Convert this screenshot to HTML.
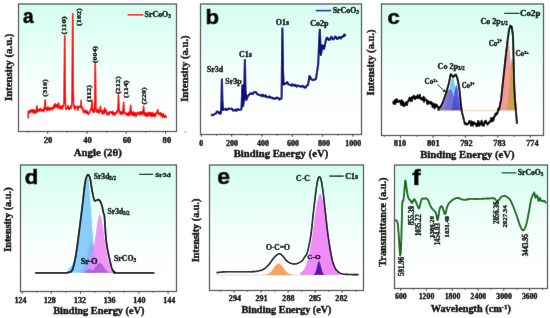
<!DOCTYPE html>
<html><head><meta charset="utf-8"><style>
html,body{margin:0;padding:0;background:#fff;width:550px;height:318px;overflow:hidden;}
svg{display:block;}
#w{width:550px;height:318px;will-change:transform;}

</style></head><body><div id="w">
<svg width="550" height="318" viewBox="0 0 550 318">
<defs>
<linearGradient id="bg" x1="0" y1="0" x2="0" y2="1">
<stop offset="0" stop-color="#d3fef0"/>
<stop offset="0.15" stop-color="#dcfff3"/>
<stop offset="0.38" stop-color="#eafff8"/>
<stop offset="0.6" stop-color="#f6fffc"/>
<stop offset="0.8" stop-color="#fdfffe"/>
<stop offset="1" stop-color="#ffffff"/>
</linearGradient>
<filter id="sb" x="0" y="0" width="550" height="318" filterUnits="userSpaceOnUse"><feConvolveMatrix order="3" kernelMatrix="0.00163 0.03713 0.00163 0.03713 0.84497 0.03713 0.00163 0.03713 0.00163" preserveAlpha="true"/></filter>
</defs>
<g filter="url(#sb)">
<rect x="0" y="0" width="550" height="318" fill="#fff"/>
<rect x="18.5" y="4" width="158.0" height="127.5" fill="url(#bg)"/>
<rect x="200.5" y="4" width="161.0" height="130.5" fill="url(#bg)"/>
<rect x="381.5" y="4" width="162.0" height="131.5" fill="url(#bg)"/>
<rect x="20.5" y="165" width="156.0" height="126.5" fill="url(#bg)"/>
<rect x="209.5" y="165" width="154.0" height="125.5" fill="url(#bg)"/>
<rect x="394.5" y="165" width="153.0" height="123.5" fill="url(#bg)"/>
<path d="M28,118.5 L28.4,111.28 L28.8,113.47 L29.2,110.69 L29.6,112.71 L30,111.81 L30.4,110.28 L30.8,112.23 L31.2,109.96 L31.6,111.67 L32,109.88 L32.4,109.86 L32.8,111.28 L33.2,113.02 L33.6,109.67 L34,110.01 L34.4,111.76 L34.8,113.12 L35.2,111.33 L35.6,110.46 L36,113.08 L36.4,108.33 L36.75,110.14 L36.8,107.21 L37,105.86 L37.2,106.38 L37.25,107.56 L37.6,111.75 L38,109.22 L38.4,111.04 L38.8,111.26 L39.2,109.99 L39.6,110.76 L40,108.49 L40.4,108.43 L40.8,109.07 L41.2,111.21 L41.6,110.01 L42,109.45 L42.4,110.65 L42.8,110 L43.2,109.26 L43.6,111.49 L44,111 L44.4,108.12 L44.8,103.28 L44.85,101.88 L45.1,100.03 L45.2,99.96 L45.35,100.67 L45.6,109.12 L46,107.81 L46.4,109.2 L46.8,110.64 L47.2,107.74 L47.6,109.17 L48,106.98 L48.4,109.75 L48.8,110.08 L49.2,109.08 L49.6,110.35 L50,107.64 L50.4,109.28 L50.8,108.69 L51.2,108.51 L51.6,107.82 L52,109.46 L52.4,109.83 L52.8,107.54 L53.2,108.29 L53.6,105.38 L54,108.06 L54.4,107.03 L54.75,107.63 L54.8,106.73 L55,104.01 L55.2,104.66 L55.25,106.06 L55.6,103.98 L56,106.65 L56.4,105.46 L56.8,105.24 L57.2,104.97 L57.6,108.2 L58,104.55 L58.25,103.72 L58.4,103.66 L58.5,105.71 L58.75,102.95 L58.8,104.95 L59.2,107.03 L59.6,108.76 L60,108.47 L60.4,108.67 L60.8,105.98 L61.2,106.61 L61.6,106.35 L62,108.77 L62.4,109.14 L62.8,105.46 L63.2,105.61 L63.6,105.82 L64,101.31 L64.4,64.42 L64.45,57.85 L64.7,35.71 L64.8,38.33 L64.95,57.11 L65.2,89.1 L65.6,106.82 L66,109.41 L66.4,108.24 L66.8,107.47 L67.2,107.97 L67.6,108.28 L68,105.45 L68.4,109.37 L68.8,108.85 L69.2,109.31 L69.6,108.98 L70,107.15 L70.4,107.21 L70.8,105.88 L71.2,108.35 L71.6,105.63 L72,99.64 L72.4,49.68 L72.45,40.1 L72.7,13.46 L72.8,17.21 L72.95,39.39 L73.2,82.92 L73.6,105.03 L74,107.29 L74.4,105.77 L74.8,109.71 L75.2,108.52 L75.6,106.38 L76,106.86 L76.4,107.3 L76.8,107.38 L77.2,106.27 L77.6,109.61 L78,110.27 L78.4,107.84 L78.8,107.93 L79.2,106.1 L79.6,106.17 L80,107.27 L80.4,107.02 L80.8,107.47 L80.95,102.63 L81.2,100.31 L81.45,106.61 L81.6,106.64 L82,107.59 L82.4,109.88 L82.8,107.78 L83.2,110.37 L83.6,112.72 L84,112.47 L84.4,111.98 L84.8,110.26 L85.2,110.95 L85.6,110.17 L86,113.08 L86.4,112.12 L86.8,113.38 L87.2,111.45 L87.6,111.09 L88,113.93 L88.4,114.4 L88.8,113.46 L89.2,112.91 L89.6,112.63 L90,111.94 L90.4,109.24 L90.8,110.25 L91.2,109.12 L91.6,104.67 L91.75,102.39 L92,101.29 L92.25,103.45 L92.4,107.72 L92.8,111.88 L93.2,109.75 L93.6,112.01 L94,112.24 L94.4,111.58 L94.8,97.96 L95.05,76.37 L95.2,65.49 L95.3,62.9 L95.55,76.45 L95.6,82.98 L96,109.13 L96.4,111.93 L96.8,110.45 L97.2,111.36 L97.6,112.16 L98,108.99 L98.4,111.76 L98.8,113.02 L99.2,112.56 L99.6,112.48 L100,110.26 L100.25,106.83 L100.4,108.56 L100.5,106.23 L100.75,109.76 L100.8,111.01 L101.2,110.9 L101.6,111.28 L102,113.86 L102.4,112.89 L102.8,110.4 L103.2,110.26 L103.6,110.44 L104,113.95 L104.4,113.06 L104.75,107.93 L104.8,110.72 L105,110.71 L105.2,110 L105.25,108.95 L105.6,112.06 L106,110.69 L106.4,110.23 L106.8,114.69 L107.2,113.27 L107.6,112.76 L108,114.69 L108.4,112.46 L108.8,114.53 L109.2,114.38 L109.6,111.61 L110,111.86 L110.4,112.05 L110.8,111.81 L111.2,113.4 L111.6,111.89 L112,112.63 L112.4,111.3 L112.8,114.89 L113.2,112.33 L113.6,112.81 L114,113.38 L114.4,114.86 L114.8,112.63 L115.2,114.92 L115.6,113.01 L116,113.15 L116.4,113.11 L116.8,110.79 L117.2,112.72 L117.6,111.35 L118,106.33 L118.25,101.94 L118.4,94.84 L118.5,95.28 L118.75,101.6 L118.8,102.58 L119.2,111.04 L119.6,113.06 L120,113.25 L120.4,114.33 L120.8,111.23 L121.2,113.34 L121.6,111.92 L122,112.07 L122.4,114.37 L122.8,112.81 L123.2,108.15 L123.35,105.26 L123.6,102.2 L123.85,103.83 L124,108.42 L124.4,112.88 L124.8,113.29 L125.2,114.15 L125.6,113.06 L126,113.45 L126.4,113.22 L126.8,115.37 L127.2,114.28 L127.6,115.11 L128,115.43 L128.4,112.31 L128.8,113.71 L129.2,115.5 L129.6,115.04 L130,111.42 L130.4,108 L130.45,108.85 L130.7,105.33 L130.8,106.45 L130.95,107.18 L131.2,112.78 L131.6,114.82 L132,115.43 L132.4,112.03 L132.8,114.63 L133.2,114.4 L133.6,112.04 L134,115.46 L134.4,115.87 L134.8,112.45 L135.2,115.84 L135.6,113.31 L136,113.74 L136.4,116.07 L136.8,115.37 L137.2,112.3 L137.6,113.57 L138,113.97 L138.4,113.18 L138.8,112.54 L139.2,113.13 L139.6,115 L140,111.79 L140.4,114.27 L140.8,113.77 L141.2,111.84 L141.6,113.3 L142,114.67 L142.4,114.15 L142.8,111.1 L143.15,110.97 L143.2,109.34 L143.4,108.67 L143.6,106.22 L143.65,107.68 L144,111.04 L144.4,115.47 L144.8,113.18 L145.2,112.56 L145.6,113.92 L146,116.19 L146.4,115.79 L146.8,113.23 L147.2,112.75 L147.6,116.31 L148,114.72 L148.4,115.34 L148.8,112.55 L149.2,112.42 L149.6,115.35 L150,114.16 L150.4,112.55 L150.8,116.56 L151.2,115.18 L151.6,115.97 L152,112.69 L152.4,116.26 L152.8,112.65 L153.2,116.33 L153.6,114.47 L154,113.96 L154.4,114.96 L154.8,116.7 L155.2,113.69 L155.6,113.07 L156,114.92 L156.4,113.62 L156.8,113.03 L157.2,112.71 L157.55,109.71 L157.6,109.99 L157.8,109.64 L158,110.49 L158.05,112.99 L158.4,113.36 L158.8,114.92 L159.2,113.48 L159.6,114.28 L160,112.78 L160.4,113.92 L160.8,112.9 L161.2,116.27 L161.6,115.5 L162,113.9 L162.4,115.28 L162.8,117.47 L163.2,113.72 L163.6,117.07 L164,115.35 L164.4,115.71 L164.8,117.34 L165.2,115.37 L165.6,115.96 L166,116.86 L166.4,118.22" fill="none" stroke="#f00" stroke-width="1.55" stroke-linejoin="round"/>
<path d="M211,115 L211.6,114.59 L212.2,115.46 L212.8,115.11 L213.4,114.87 L214,114.5 L214.67,113.98 L215.33,113.53 L216,113.5 L216.75,111.61 L217.5,111.5 L218.25,111.76 L219,113.5 L219.67,112.47 L220.33,113.65 L221,113 L221.5,100 L221.9,79.2 L222.4,100 L223,110 L223.67,109.34 L224.33,108.99 L225,109.5 L225.62,108.61 L226.25,110.06 L226.88,110.05 L227.5,109.59 L228.12,108.75 L228.75,108.61 L229.38,108.65 L230,109 L230.62,109.04 L231.25,108.57 L231.88,109.27 L232.5,109.03 L233.12,110.55 L233.75,110.7 L234.38,109.97 L235,110 L235.62,109.49 L236.25,110.93 L236.88,109.62 L237.5,109.71 L238.12,109 L238.75,109.76 L239.38,109.95 L240,110 L240.75,109.51 L241.5,109 L242.4,85.2 L243.1,106 L244,100 L244.9,60 L245.5,90 L246.3,100 L247.5,97 L248.13,95.57 L248.77,95.34 L249.4,94.5 L250.12,93.41 L250.84,93.83 L251.56,93.38 L252.28,93.9 L253,94 L253.62,92.58 L254.25,92.04 L254.88,92.11 L255.5,92 L256.25,92.47 L257,94 L257.62,94.33 L258.23,94.37 L258.85,94.96 L259.46,94.93 L260.08,95.2 L260.69,95.68 L261.31,94.86 L261.92,94.88 L262.54,96.35 L263.15,94.84 L263.77,96.14 L264.38,96.13 L265,96 L265.64,95.22 L266.27,96.94 L266.91,97.19 L267.55,96.8 L268.18,97.15 L268.82,97.44 L269.45,96.23 L270.09,97.14 L270.73,97.24 L271.36,98.03 L272,97.5 L272.61,98.23 L273.23,98.4 L273.84,98.03 L274.46,98.77 L275.07,98.47 L275.69,98.62 L276.3,97.81 L276.91,97.53 L277.53,97.86 L278.14,98.44 L278.76,98.05 L279.37,99.63 L279.99,99.2 L280.6,99.2 L281.6,98 L282.4,28.4 L283,70 L283.7,84.5 L284.32,84.38 L284.94,83.99 L285.56,83.72 L286.18,82.96 L286.8,82.6 L287.44,82.09 L288.08,84.16 L288.72,84.54 L289.36,84.53 L290,85 L290.62,85.13 L291.25,85.44 L291.88,84.32 L292.5,85.72 L293.12,84.82 L293.75,84.52 L294.38,84.97 L295,85.96 L295.62,84.97 L296.25,86.1 L296.88,86.64 L297.5,85.74 L298.12,85.58 L298.75,85.83 L299.38,86.3 L300,86 L300.6,86.68 L301.2,86.53 L301.8,86.74 L302.4,85.75 L303,86.04 L303.6,86.41 L304.2,87.54 L304.8,86.81 L305.4,87.49 L306,87.5 L306.67,85.69 L307.33,84.95 L308,85 L308.75,80.5 L309.5,76 L310.17,76.7 L310.83,78.68 L311.5,79.5 L312.12,80.01 L312.75,80.1 L313.38,79.46 L314,80 L314.67,79.7 L315.33,79.26 L316,79 L316.73,74 L317.47,69 L318.2,64 L319.3,38 L319.8,29.5 L320.9,55 L321.75,50.15 L322.6,45.3 L323.3,47.08 L324,49 L324.75,45.5 L325.5,42 L326.25,39.04 L327,37.6 L327.67,39.19 L328.33,38.6 L329,40 L329.67,39.96 L330.33,38.87 L331,37 L331.67,36.87 L332.33,38.58 L333,39.5 L333.67,39.14 L334.33,38.44 L335,36.5 L335.67,37.23 L336.33,37.7 L337,39 L337.67,37.75 L338.33,38.56 L339,37 L339.67,36.92 L340.33,38.16 L341,38.5 L341.67,36.95 L342.33,36.88 L343,36 L343.68,36.48 L344.35,34.42 L345.02,35.37 L345.7,34.3" fill="none" stroke="#080880" stroke-width="2.1" stroke-linejoin="round"/>
<path d="M440,111 L440,110.99 L440.5,110.98 L441,110.97 L441.5,110.94 L442,110.89 L442.5,110.81 L443,110.69 L443.5,110.5 L444,110.21 L444.5,109.78 L445,109.18 L445.5,108.34 L446,107.23 L446.5,105.78 L447,103.95 L447.5,101.74 L448,99.14 L448.5,96.21 L449,93.02 L449.5,89.71 L450,86.44 L450.5,83.39 L451,80.76 L451.5,78.72 L452,77.44 L452.5,77 L453,77.44 L453.5,78.72 L454,80.76 L454.5,83.39 L455,86.44 L455.5,89.71 L456,93.02 L456.5,96.21 L457,99.14 L457.5,101.74 L458,103.95 L458.5,105.78 L459,107.23 L459.5,108.34 L460,109.18 L460.5,109.78 L461,110.21 L461.5,110.5 L462,110.69 L462,111Z" fill="#78c8f4" fill-opacity="1.0"/>
<path d="M439.5,111 L439.5,109.75 L440,109.36 L440.5,108.88 L441,108.29 L441.5,107.59 L442,106.75 L442.5,105.79 L443,104.7 L443.5,103.48 L444,102.14 L444.5,100.71 L445,99.2 L445.5,97.66 L446,96.11 L446.5,94.61 L447,93.2 L447.5,91.93 L448,90.85 L448.5,89.98 L449,89.38 L449.5,89.05 L450,89.02 L450.5,89.29 L451,89.84 L451.5,90.65 L452,91.7 L452.5,92.94 L453,94.32 L453.5,95.81 L454,97.35 L454.5,98.89 L455,100.41 L455.5,101.86 L456,103.22 L456.5,104.47 L457,105.58 L457.5,106.57 L458,107.43 L458.5,108.16 L459,108.77 L459.5,109.27 L460,109.68 L460.5,110 L461,110.26 L461.5,110.46 L462,110.61 L462,111Z" fill="#6a62cc" fill-opacity="0.85"/>
<path d="M449,111 L449,110.91 L449.5,110.81 L450,110.62 L450.5,110.29 L451,109.72 L451.5,108.82 L452,107.48 L452.5,105.6 L453,103.12 L453.5,100.09 L454,96.66 L454.5,93.09 L455,89.77 L455.5,87.09 L456,85.43 L456.5,85.03 L457,85.95 L457.5,88.06 L458,91.04 L458.5,94.51 L459,98.07 L459.5,101.37 L460,104.18 L460.5,106.42 L461,108.08 L461.5,109.23 L462,109.98 L462,111Z" fill="#4a4ad8" fill-opacity="0.9"/>
<path d="M497.5,110.2 L497.5,109.11 L498,108.57 L498.5,107.82 L499,106.78 L499.5,105.39 L500,103.57 L500.5,101.26 L501,98.37 L501.5,94.87 L502,90.74 L502.5,85.99 L503,80.69 L503.5,74.95 L504,68.96 L504.5,62.91 L505,57.08 L505.5,51.73 L506,47.15 L506.5,43.57 L507,41.22 L507.5,40.23 L508,40.66 L508.5,42.48 L509,45.58 L509.5,49.79 L510,54.87 L510.5,60.54 L511,66.53 L511.5,72.57 L512,78.44 L512.5,83.93 L513,88.91 L513.5,93.29 L514,97.05 L514.5,100.17 L515,102.71 L515.5,104.72 L516,106.27 L516.5,107.44 L517,108.3 L517,110.2Z" fill="#f49a98" fill-opacity="1.0"/>
<path d="M505,110.2 L505,110 L505.5,109.77 L506,109.32 L506.5,108.52 L507,107.15 L507.5,104.97 L508,101.72 L508.5,97.23 L509,91.46 L509.5,84.6 L510,77.16 L510.5,69.91 L511,63.77 L511.5,59.65 L512,58.2 L512.5,59.65 L513,63.77 L513.5,69.91 L514,77.16 L514.5,84.6 L515,91.46 L515.5,97.23 L516,101.72 L516.5,104.97 L517,107.15 L517,110.2Z" fill="#c8a044" fill-opacity="0.95"/>
<line x1="438" y1="110.8" x2="517.5" y2="110.8" stroke="#f6d2c0" stroke-width="1"/>
<path d="M392.6,101.6 L393.14,101.69 L393.68,103.77 L394.22,102.82 L394.76,100.31 L395.3,103.95 L395.84,101.77 L396.38,99.31 L396.92,99.24 L397.46,101.92 L398,102 L398.5,101.88 L399,101.22 L399.5,100.49 L400,101.73 L400.5,101.72 L401,104.69 L401.5,100.31 L402,104.5 L402.5,105.12 L403,101.38 L403.5,105.87 L404,104.86 L404.5,106.03 L405,104 L405.5,102.45 L406,102.48 L406.5,102.17 L407,105.03 L407.5,102.4 L408,100.75 L408.5,100.69 L409,99.45 L409.5,97.81 L410,97.68 L410.5,101.22 L411,99 L411.52,97.56 L412.03,100.78 L412.55,96.79 L413.06,96.6 L413.58,97.64 L414.09,95.62 L414.61,96.32 L415.12,99.19 L415.64,98.51 L416.15,97.84 L416.67,96.58 L417.18,97.82 L417.7,95.3 L418.25,98.13 L418.8,96.47 L419.35,97.84 L419.9,94.67 L420.45,98.8 L421,98 L421.5,97.98 L422,99.86 L422.5,99.53 L423,97.85 L423.5,96.81 L424,101.8 L424.5,97.74 L425,100 L425.5,100.18 L426,99.82 L426.5,99.91 L427,102.62 L427.5,104.24 L428,100.7 L428.5,103.18 L429,101.59 L429.5,103.31 L430,102.76 L430.5,101.87 L431,104 L431.51,102.41 L432.02,102.9 L432.53,106.9 L433.04,104.93 L433.55,103.67 L434.05,107.61 L434.56,108.34 L435.07,105.62 L435.58,104.18 L436.09,104.7 L436.6,106.6 L437.1,105.24 L437.6,107.45 L438.1,106.94 L438.6,110 L439.2,107.59 L439.8,106.7 L440.4,107.38 L441,106 L441.5,105 L442,104 L442.5,103 L443,102 L443.5,100.5 L444,99 L444.5,97.5 L445,96 L445.5,94.53 L446,93.07 L446.5,91.6 L447,89.9 L447.5,88.2 L448,86.5 L448.9,83.3 L449.45,80.35 L450,77.4 L450.8,74 L451.4,74.75 L452,75.5 L452.5,76 L453,76.5 L453.5,77 L454,76.33 L454.5,75.67 L455,75 L455.5,74.8 L456,74.6 L456.65,76.3 L457.3,78 L457.9,81 L458.5,84 L459,87 L459.5,90 L460.1,96.1 L460.7,102.2 L461.25,106.9 L461.8,111.6 L462.4,113.95 L463,116.3 L463.6,118.65 L464.2,121 L464.8,123.99 L465.4,124.15 L466,123.23 L466.6,124.6 L467.17,123.87 L467.73,124.2 L468.3,123.14 L468.87,122.66 L469.43,120.9 L470,123 L470.5,121.9 L471,125.73 L471.5,121.28 L472,123.42 L472.5,124.2 L473,125.56 L473.5,122.17 L474,122.56 L474.5,122.54 L475,124 L475.5,123.41 L476,123.61 L476.5,126.3 L477,125.68 L477.5,125.76 L478,121.12 L478.5,121.12 L479,124.73 L479.5,125.69 L480,123.5 L480.5,123.31 L481,123.87 L481.5,120.65 L482,122.71 L482.5,125.55 L483,124.96 L483.5,125.07 L484,125.65 L484.5,121.69 L485,123 L485.5,120.74 L486,120.83 L486.5,122.67 L487,123.38 L487.5,124.63 L488,123.3 L488.5,122.75 L489,123.23 L489.5,121.42 L490,121.5 L490.54,121.28 L491.08,118.01 L491.62,121.52 L492.16,118.06 L492.7,119 L493.27,120.64 L493.85,118.54 L494.43,116.07 L495,116.5 L495.5,113.62 L496,113.41 L496.5,114.61 L497,113 L497.5,113.32 L498,109.41 L498.5,108.43 L499,110 L499.5,107.5 L500,105 L500.5,102.5 L501,100 L501.53,95 L502.07,90 L502.6,85 L503.3,78.5 L504,72 L504.5,67.33 L505,62.67 L505.5,58 L506,53.75 L506.5,49.5 L507,45.25 L507.5,41 L508,37.33 L508.5,33.67 L509,30 L509.65,27.8 L510.3,25.6 L510.8,26.07 L511.3,26.53 L511.8,27 L512.4,31.5 L513,36 L513.6,60 L514.2,85 L515,100 L515.5,106 L516,112 L516.5,118 L517,124" fill="none" stroke="#000" stroke-width="2.0" stroke-linejoin="round"/>
<line x1="437.4" y1="84.6" x2="444.2" y2="90.8" stroke="#000" stroke-width="0.9"/>
<path d="M446,92.4 L442.6,91.4 L444.6,89.2 Z" fill="#000"/>
<path d="M68,272.8 L68,268.97 L68.5,268.69 L69,268.38 L69.5,268.01 L70,267.6 L70.5,267.11 L71,266.56 L71.5,265.91 L72,265.17 L72.5,264.31 L73,263.33 L73.5,262.21 L74,260.93 L74.5,259.48 L75,257.85 L75.5,256.01 L76,253.96 L76.5,251.69 L77,249.18 L77.5,246.43 L78,243.44 L78.5,240.21 L79,236.75 L79.5,233.06 L80,229.17 L80.5,225.1 L81,220.88 L81.5,216.55 L82,212.14 L82.5,207.72 L83,203.33 L83.5,199.05 L84,194.94 L84.5,191.08 L85,187.54 L85.5,184.43 L86,181.8 L86.5,179.73 L87,178.29 L87.5,177.53 L88,177.57 L88.5,179.41 L89,183.13 L89.5,188.41 L90,194.85 L90.5,202.03 L91,209.58 L91.5,217.18 L92,224.55 L92.5,231.48 L93,237.85 L93.5,243.54 L94,248.53 L94.5,252.8 L95,256.4 L95.5,259.36 L96,261.78 L96.5,263.71 L97,265.24 L97.5,266.44 L98,267.38 L98.5,268.11 L99,268.69 L99.5,269.14 L100,269.5 L100.5,269.8 L101,270.04 L101.5,270.25 L102,270.43 L102.5,270.59 L103,270.73 L103.5,270.85 L104,270.96 L104.5,271.07 L105,271.16 L105.5,271.25 L106,271.33 L106.5,271.4 L107,271.47 L107.5,271.53 L108,271.59 L108.5,271.65 L109,271.7 L109.5,271.75 L110,271.79 L110.5,271.84 L111,271.88 L111.5,271.91 L112,271.95 L112,272.8Z" fill="#87cefa" fill-opacity="1.0"/>
<path d="M80,272.8 L80,272.09 L80.5,271.83 L81,271.48 L81.5,271.04 L82,270.48 L82.5,269.78 L83,268.93 L83.5,267.91 L84,266.71 L84.5,265.32 L85,263.74 L85.5,261.99 L86,260.07 L86.5,258.03 L87,255.9 L87.5,253.74 L88,251.6 L88.5,249.55 L89,247.67 L89.5,246.02 L90,244.65 L90.5,243.64 L91,243.01 L91.5,242.8 L92,243.01 L92.5,243.64 L93,244.65 L93.5,246.02 L94,247.67 L94.5,249.55 L95,251.6 L95.5,253.74 L96,255.9 L96.5,258.03 L97,260.07 L97.5,261.99 L98,263.74 L98.5,265.32 L99,266.71 L99.5,267.91 L100,268.93 L100.5,269.78 L101,270.48 L101.5,271.04 L102,271.48 L102.5,271.83 L103,272.09 L103.5,272.29 L104,272.44 L104,272.8Z" fill="#b070f0" fill-opacity="0.35"/>
<path d="M84,272.8 L84,270.85 L84.5,270.69 L85,270.5 L85.5,270.28 L86,270.01 L86.5,269.68 L87,269.29 L87.5,268.81 L88,268.23 L88.5,267.53 L89,266.68 L89.5,265.67 L90,264.47 L90.5,263.07 L91,261.43 L91.5,259.54 L92,257.39 L92.5,254.98 L93,252.29 L93.5,249.35 L94,246.18 L94.5,242.8 L95,239.27 L95.5,235.64 L96,232 L96.5,228.42 L97,225.01 L97.5,221.88 L98,219.16 L98.5,216.95 L99,215.39 L99.5,214.54 L100,214.46 L100.5,215.16 L101,216.59 L101.5,218.67 L102,221.3 L102.5,224.36 L103,227.72 L103.5,231.27 L104,234.91 L104.5,238.55 L105,242.11 L105.5,245.52 L106,248.73 L106.5,251.72 L107,254.46 L107.5,256.93 L108,259.13 L108.5,261.07 L109,262.76 L109.5,264.21 L110,265.45 L110.5,266.49 L111,267.37 L111.5,268.1 L112,268.7 L112.5,269.2 L113,269.61 L113.5,269.95 L114,270.23 L114.5,270.46 L115,270.65 L115.5,270.82 L116,270.96 L116,272.8Z" fill="#ee8cf6" fill-opacity="0.9"/>
<path d="M84,272.8 L84,272.05 L84.5,271.8 L85,271.5 L85.5,271.16 L86,270.77 L86.5,270.37 L87,269.97 L87.5,269.6 L88,269.27 L88.5,269.02 L89,268.86 L89.5,268.8 L90,268.86 L90.5,269.02 L91,269.27 L91.5,269.6 L92,269.97 L92.5,270.37 L93,270.77 L93.5,271.16 L94,271.5 L94.5,271.8 L95,272.05 L95.5,272.26 L96,272.42 L96,272.8Z" fill="#9a58d8" fill-opacity="0.7"/>
<path d="M88,272.8 L88,272.66 L88.5,272.6 L89,272.52 L89.5,272.41 L90,272.27 L90.5,272.09 L91,271.86 L91.5,271.58 L92,271.23 L92.5,270.82 L93,270.34 L93.5,269.79 L94,269.18 L94.5,268.5 L95,267.79 L95.5,267.04 L96,266.28 L96.5,265.54 L97,264.84 L97.5,264.2 L98,263.66 L98.5,263.24 L99,262.95 L99.5,262.81 L100,262.83 L100.5,263 L101,263.31 L101.5,263.76 L102,264.32 L102.5,264.97 L103,265.68 L103.5,266.43 L104,267.19 L104.5,267.93 L105,268.64 L105.5,269.3 L106,269.91 L106.5,270.44 L107,270.91 L107.5,271.31 L108,271.64 L108.5,271.91 L109,272.13 L109.5,272.3 L110,272.44 L110.5,272.54 L111,272.62 L111.5,272.67 L112,272.71 L112,272.8Z" fill="#9a4ed0" fill-opacity="0.7"/>
<path d="M35,272.8 L38.44,272.8 L43.44,272.81 L49.25,272.83 L55.11,272.83 L60.28,272.82 L64,272.8 L66.11,272.78 L67.18,272.76 L67.56,272.73 L67.59,272.67 L67.62,272.57 L68,272.4 L68.68,272.28 L69.38,272.26 L70.08,272.19 L70.77,271.93 L71.45,271.35 L72.1,270.3 L72.72,268.8 L73.31,266.95 L73.89,264.78 L74.46,262.3 L75.03,259.54 L75.6,256.5 L76.17,253.11 L76.74,249.33 L77.3,245.27 L77.86,241.01 L78.43,236.66 L79,232.3 L79.59,227.81 L80.2,223.07 L80.81,218.24 L81.41,213.45 L81.98,208.86 L82.5,204.6 L82.97,200.57 L83.41,196.64 L83.82,192.89 L84.2,189.44 L84.56,186.38 L84.9,183.8 L85.22,181.8 L85.5,180.33 L85.77,179.24 L86.02,178.41 L86.26,177.71 L86.5,177 L86.73,176.33 L86.95,175.81 L87.16,175.41 L87.37,175.13 L87.58,174.93 L87.8,174.8 L88.03,174.74 L88.26,174.76 L88.5,174.87 L88.74,175.07 L88.97,175.38 L89.2,175.8 L89.42,176.31 L89.63,176.91 L89.84,177.62 L90.06,178.44 L90.27,179.4 L90.5,180.5 L90.74,181.83 L90.99,183.39 L91.24,185.07 L91.49,186.8 L91.75,188.48 L92,190 L92.25,191.41 L92.51,192.8 L92.76,194.14 L93.01,195.39 L93.26,196.52 L93.5,197.5 L93.72,198.34 L93.93,199.05 L94.14,199.65 L94.34,200.14 L94.56,200.52 L94.8,200.8 L95.06,200.94 L95.32,200.92 L95.6,200.79 L95.89,200.61 L96.19,200.43 L96.5,200.3 L96.83,200.18 L97.19,200.02 L97.55,199.86 L97.91,199.73 L98.27,199.66 L98.6,199.7 L98.91,199.83 L99.2,200.02 L99.47,200.28 L99.75,200.61 L100.02,201.02 L100.3,201.5 L100.59,202.06 L100.87,202.71 L101.16,203.43 L101.45,204.21 L101.73,205.07 L102,206 L102.27,207.06 L102.54,208.28 L102.8,209.57 L103.05,210.84 L103.29,212.01 L103.5,213 L103.68,213.6 L103.83,213.83 L103.96,213.97 L104.09,214.27 L104.23,214.99 L104.4,216.4 L104.6,218.73 L104.81,221.83 L105.04,225.34 L105.27,228.95 L105.49,232.32 L105.7,235.1 L105.89,237.27 L106.06,239.09 L106.23,240.67 L106.4,242.11 L106.59,243.52 L106.8,245 L107.04,246.55 L107.3,248.07 L107.57,249.57 L107.85,251.03 L108.13,252.44 L108.4,253.8 L108.67,255.1 L108.93,256.36 L109.2,257.56 L109.47,258.73 L109.73,259.88 L110,261 L110.27,262.12 L110.53,263.23 L110.79,264.31 L111.06,265.35 L111.33,266.32 L111.6,267.2 L111.88,268 L112.16,268.73 L112.44,269.39 L112.73,269.99 L113.02,270.53 L113.3,271 L113.58,271.4 L113.86,271.71 L114.13,271.97 L114.41,272.17 L114.7,272.35 L115,272.5 L114.91,272.62 L114.33,272.7 L113.77,272.74 L113.7,272.77 L114.61,272.78 L117,272.8 L121.62,272.82 L128.23,272.82 L135.82,272.82 L143.39,272.81 L149.92,272.8 L154.4,272.8" fill="none" stroke="#000" stroke-width="1.8" stroke-linejoin="round"/>
<line x1="216" y1="275" x2="300" y2="275" stroke="#f8d8c0" stroke-width="1"/>
<path d="M262,275 L262,274.96 L262.5,274.94 L263,274.92 L263.5,274.89 L264,274.85 L264.5,274.8 L265,274.73 L265.5,274.65 L266,274.54 L266.5,274.41 L267,274.26 L267.5,274.06 L268,273.84 L268.5,273.56 L269,273.25 L269.5,272.88 L270,272.47 L270.5,272 L271,271.49 L271.5,270.92 L272,270.31 L272.5,269.67 L273,269 L273.5,268.3 L274,267.61 L274.5,266.92 L275,266.25 L275.5,265.63 L276,265.06 L276.5,264.56 L277,264.15 L277.5,263.83 L278,263.61 L278.5,263.51 L279,263.52 L279.5,263.65 L280,263.88 L280.5,264.22 L281,264.65 L281.5,265.17 L282,265.75 L282.5,266.38 L283,267.05 L283.5,267.75 L284,268.44 L284.5,269.13 L285,269.8 L285.5,270.44 L286,271.04 L286.5,271.59 L287,272.1 L287.5,272.56 L288,272.96 L288.5,273.32 L289,273.62 L289.5,273.88 L290,274.11 L290.5,274.29 L291,274.44 L291.5,274.57 L292,274.67 L292.5,274.74 L293,274.81 L293.5,274.86 L294,274.89 L294.5,274.92 L295,274.94 L295,275Z" fill="#f4a460" fill-opacity="1.0"/>
<path d="M300,275 L300,272.8 L300.5,272.56 L301,272.29 L301.5,271.97 L302,271.59 L302.5,271.15 L303,270.63 L303.5,270.03 L304,269.34 L304.5,268.54 L305,267.63 L305.5,266.58 L306,265.4 L306.5,264.06 L307,262.56 L307.5,260.88 L308,259.02 L308.5,256.98 L309,254.74 L309.5,252.3 L310,249.68 L310.5,246.87 L311,243.88 L311.5,240.73 L312,237.43 L312.5,234.01 L313,230.49 L313.5,226.9 L314,223.29 L314.5,219.68 L315,216.13 L315.5,212.67 L316,209.37 L316.5,206.26 L317,203.4 L317.5,200.84 L318,198.62 L318.5,196.8 L319,195.41 L319.5,194.48 L320,194.04 L320.5,194.09 L321,194.63 L321.5,195.65 L322,197.13 L322.5,199.03 L323,201.32 L323.5,203.95 L324,206.86 L324.5,210.01 L325,213.35 L325.5,216.83 L326,220.4 L326.5,224.01 L327,227.62 L327.5,231.2 L328,234.7 L328.5,238.1 L329,241.37 L329.5,244.49 L330,247.45 L330.5,250.22 L331,252.81 L331.5,255.2 L332,257.4 L332.5,259.41 L333,261.23 L333.5,262.87 L334,264.34 L334.5,265.65 L335,266.8 L335.5,267.82 L336,268.71 L336.5,269.49 L337,270.16 L337.5,270.74 L338,271.24 L338.5,271.67 L339,272.04 L339.5,272.35 L340,272.61 L340,275Z" fill="#f08cf8" fill-opacity="1"/>
<path d="M313,275 L313,274.84 L313.5,274.68 L314,274.38 L314.5,273.89 L315,273.11 L315.5,271.97 L316,270.45 L316.5,268.59 L317,266.51 L317.5,264.43 L318,262.65 L318.5,261.43 L319,261 L319.5,261.43 L320,262.65 L320.5,264.43 L321,266.51 L321.5,268.59 L322,270.45 L322.5,271.97 L323,273.11 L323.5,273.89 L324,274.38 L324.5,274.68 L325,274.84 L325,275Z" fill="#5a12b4" fill-opacity="1.0"/>
<path d="M216.5,272.6 L217.45,272.5 L218.69,272.36 L220.19,272.2 L221.93,272.04 L223.87,271.9 L226,271.8 L228.47,271.76 L231.33,271.75 L234.41,271.76 L237.5,271.79 L240.43,271.8 L243,271.8 L245.25,271.79 L247.33,271.77 L249.25,271.75 L251,271.72 L252.58,271.67 L254,271.6 L255.18,271.51 L256.11,271.41 L256.88,271.3 L257.56,271.16 L258.24,271 L259,270.8 L259.83,270.59 L260.67,270.37 L261.51,270.13 L262.34,269.84 L263.17,269.47 L264,269 L264.82,268.43 L265.64,267.78 L266.46,267.05 L267.27,266.26 L268.08,265.4 L268.9,264.5 L269.72,263.49 L270.53,262.36 L271.35,261.18 L272.17,259.99 L272.98,258.88 L273.8,257.9 L274.64,257.01 L275.49,256.14 L276.35,255.34 L277.19,254.66 L277.98,254.13 L278.7,253.8 L279.32,253.68 L279.86,253.73 L280.35,253.94 L280.84,254.28 L281.38,254.74 L282,255.3 L282.72,256.04 L283.51,257 L284.35,258.08 L285.21,259.17 L286.06,260.18 L286.9,261 L287.71,261.64 L288.53,262.19 L289.34,262.66 L290.15,263.04 L290.97,263.35 L291.8,263.6 L292.64,263.78 L293.48,263.9 L294.33,263.94 L295.19,263.91 L296.04,263.8 L296.9,263.6 L297.79,263.3 L298.71,262.9 L299.64,262.41 L300.53,261.87 L301.37,261.29 L302.1,260.7 L302.72,260.07 L303.26,259.39 L303.73,258.67 L304.16,257.93 L304.58,257.2 L305,256.5 L305.4,255.97 L305.77,255.63 L306.11,255.29 L306.47,254.77 L306.85,253.91 L307.3,252.5 L307.82,250.53 L308.41,248.12 L309.02,245.36 L309.65,242.32 L310.25,239.08 L310.8,235.7 L311.3,232.05 L311.77,228.05 L312.21,223.84 L312.64,219.58 L313.07,215.42 L313.5,211.5 L313.94,207.73 L314.37,203.97 L314.81,200.31 L315.23,196.84 L315.63,193.64 L316,190.8 L316.34,188.34 L316.66,186.18 L316.96,184.3 L317.24,182.66 L317.52,181.24 L317.8,180 L318.08,178.97 L318.35,178.19 L318.61,177.61 L318.87,177.23 L319.14,177 L319.4,176.9 L319.66,176.9 L319.92,177.02 L320.18,177.3 L320.44,177.78 L320.72,178.5 L321,179.5 L321.29,180.77 L321.59,182.27 L321.9,184.02 L322.22,186.01 L322.55,188.27 L322.9,190.8 L323.27,193.67 L323.65,196.87 L324.04,200.34 L324.45,203.99 L324.87,207.74 L325.3,211.5 L325.74,215.37 L326.18,219.43 L326.64,223.59 L327.11,227.76 L327.59,231.82 L328.1,235.7 L328.64,239.5 L329.22,243.32 L329.82,247.05 L330.41,250.57 L330.98,253.76 L331.5,256.5 L331.97,258.73 L332.39,260.53 L332.79,262 L333.19,263.25 L333.58,264.38 L334,265.5 L334.41,266.56 L334.79,267.46 L335.18,268.24 L335.61,268.95 L336.1,269.62 L336.7,270.3 L337.39,270.99 L338.14,271.67 L338.97,272.31 L339.87,272.89 L340.84,273.39 L341.9,273.8 L343.06,274.09 L344.34,274.26 L345.69,274.36 L347.09,274.41 L348.5,274.45 L349.9,274.5 L351.4,274.55 L353.04,274.58 L354.7,274.59 L356.25,274.6 L357.56,274.6 L358.5,274.6" fill="none" stroke="#000" stroke-width="1.6" stroke-linejoin="round"/>
<path d="M395,220.3 L395.64,220.33 L396.53,220.52 L397.3,221.7 L397.79,224.26 L398.16,227.81 L398.5,232 L398.86,237.23 L399.2,243.09 L399.5,248 L399.75,251.69 L399.97,254.43 L400.2,255.5 L400.46,254.69 L400.74,252.2 L401,248 L401.24,241.44 L401.48,233.17 L401.7,225 L401.89,216.87 L402.07,208.85 L402.3,203 L402.6,200.94 L402.95,201.06 L403.3,200.5 L403.63,198.23 L403.97,195.29 L404.3,192 L404.63,187.67 L404.95,183 L405.3,180.4 L405.69,181.37 L406.1,184.41 L406.5,187.5 L406.87,190.11 L407.23,192.77 L407.6,195 L407.97,196.55 L408.36,197.67 L408.8,198.6 L409.34,199.34 L409.93,199.89 L410.5,200.5 L411.02,201.47 L411.52,202.51 L412,203 L412.45,202.49 L412.88,201.42 L413.3,200.5 L413.67,199.8 L414.04,199.25 L414.5,199.3 L415.13,200.27 L415.85,201.84 L416.6,203.5 L417.38,205.5 L418.18,207.58 L418.9,208.5 L419.49,207.4 L420,205.14 L420.5,203 L420.99,201.28 L421.47,199.69 L422,198.6 L422.64,198.36 L423.33,198.62 L424,198.8 L424.63,198.6 L425.24,198.31 L425.8,198.2 L426.3,198.39 L426.76,198.75 L427.2,199.2 L427.6,199.58 L427.98,200.05 L428.5,201 L429.23,202.81 L430.09,205.1 L431,207.1 L432,208.5 L433.06,209.6 L434,210.6 L434.76,211.34 L435.4,211.96 L436,213.1 L436.55,215.8 L437.05,219.01 L437.6,220.2 L438.24,217.55 L438.92,212.87 L439.6,209.1 L440.27,207.24 L440.95,206.29 L441.6,206.1 L442.22,206.88 L442.81,208.43 L443.4,210 L443.94,211.82 L444.48,213.66 L445.1,214.1 L445.86,212.03 L446.7,208.57 L447.6,205.6 L448.54,203.88 L449.54,202.66 L450.6,201.6 L451.75,200.57 L452.96,199.7 L454.2,199 L455.37,198.44 L456.56,198.06 L458,198 L459.84,198.53 L461.92,199.37 L464,199.9 L465.93,199.74 L467.85,199.26 L470,198.9 L472.56,198.87 L475.33,198.96 L478,199 L480.48,198.9 L482.85,198.74 L485,198.6 L486.84,198.51 L488.45,198.44 L490,198.4 L491.56,198.3 L493.06,198.24 L494.4,198.5 L495.54,199.49 L496.52,200.8 L497.4,201.5 L498.15,201.07 L498.8,200.04 L499.5,199 L500.29,198.1 L501.12,197.2 L502,196.5 L502.97,196.06 L503.98,195.83 L504.9,195.8 L505.63,196.01 L506.26,196.43 L507,197 L507.93,197.59 L508.97,198.32 L510,199.5 L510.98,201.28 L511.96,203.5 L513,206 L514.13,208.76 L515.31,211.8 L516.5,215 L517.69,218.6 L518.87,222.36 L520,225.5 L521.04,227.89 L522.03,229.66 L523,230.4 L523.95,229.9 L524.88,228.37 L525.8,226 L526.71,222.64 L527.62,218.43 L528.5,214 L529.39,209.11 L530.25,204 L531,200 L531.57,197.92 L532.02,197.03 L532.5,195.78 L533.07,194.25 L533.66,193.96 L534.2,192.42 L534.66,193.93 L535.07,195.87 L535.5,197.92 L535.99,196.94 L536.49,196.51 L537,195.45 L537.5,196.23 L538,198.18 L538.5,200.92 L539,200.37 L539.5,198.93 L540,198.04 L540.5,199.53 L541,200.76 L541.5,200.84 L541.94,200.41 L542.39,200.85 L543,201.35 L544,200.75 L545.17,201.52 L546,203.3" fill="none" stroke="#136a13" stroke-width="1.9" stroke-linejoin="round"/>
<rect x="18.5" y="4" width="158.0" height="127.5" fill="none" stroke="#555" stroke-width="1.3"/>
<rect x="200.5" y="4" width="161.0" height="130.5" fill="none" stroke="#555" stroke-width="1.3"/>
<rect x="381.5" y="4" width="162.0" height="131.5" fill="none" stroke="#555" stroke-width="1.3"/>
<rect x="20.5" y="165" width="156.0" height="126.5" fill="none" stroke="#555" stroke-width="1.3"/>
<rect x="209.5" y="165" width="154.0" height="125.5" fill="none" stroke="#555" stroke-width="1.3"/>
<rect x="394.5" y="165" width="153.0" height="123.5" fill="none" stroke="#555" stroke-width="1.3"/>
<line x1="47.7" y1="131.5" x2="47.7" y2="133.7" stroke="#3a3a3a" stroke-width="1"/>
<line x1="86.97" y1="131.5" x2="86.97" y2="133.7" stroke="#3a3a3a" stroke-width="1"/>
<line x1="126.24" y1="131.5" x2="126.24" y2="133.7" stroke="#3a3a3a" stroke-width="1"/>
<line x1="165.51" y1="131.5" x2="165.51" y2="133.7" stroke="#3a3a3a" stroke-width="1"/>
<line x1="28.07" y1="131.5" x2="28.07" y2="132.82" stroke="#3a3a3a" stroke-width="0.8"/>
<line x1="67.34" y1="131.5" x2="67.34" y2="132.82" stroke="#3a3a3a" stroke-width="0.8"/>
<line x1="106.61" y1="131.5" x2="106.61" y2="132.82" stroke="#3a3a3a" stroke-width="0.8"/>
<line x1="145.88" y1="131.5" x2="145.88" y2="132.82" stroke="#3a3a3a" stroke-width="0.8"/>
<line x1="185.14" y1="131.5" x2="185.14" y2="132.82" stroke="#3a3a3a" stroke-width="0.8"/>
<line x1="201.4" y1="134.5" x2="201.4" y2="136.7" stroke="#3a3a3a" stroke-width="1"/>
<line x1="231.7" y1="134.5" x2="231.7" y2="136.7" stroke="#3a3a3a" stroke-width="1"/>
<line x1="262" y1="134.5" x2="262" y2="136.7" stroke="#3a3a3a" stroke-width="1"/>
<line x1="292.3" y1="134.5" x2="292.3" y2="136.7" stroke="#3a3a3a" stroke-width="1"/>
<line x1="322.6" y1="134.5" x2="322.6" y2="136.7" stroke="#3a3a3a" stroke-width="1"/>
<line x1="352.9" y1="134.5" x2="352.9" y2="136.7" stroke="#3a3a3a" stroke-width="1"/>
<line x1="216.55" y1="134.5" x2="216.55" y2="135.82" stroke="#3a3a3a" stroke-width="0.8"/>
<line x1="246.85" y1="134.5" x2="246.85" y2="135.82" stroke="#3a3a3a" stroke-width="0.8"/>
<line x1="277.15" y1="134.5" x2="277.15" y2="135.82" stroke="#3a3a3a" stroke-width="0.8"/>
<line x1="307.45" y1="134.5" x2="307.45" y2="135.82" stroke="#3a3a3a" stroke-width="0.8"/>
<line x1="337.75" y1="134.5" x2="337.75" y2="135.82" stroke="#3a3a3a" stroke-width="0.8"/>
<line x1="400.5" y1="135.5" x2="400.5" y2="137.7" stroke="#3a3a3a" stroke-width="1"/>
<line x1="432.95" y1="135.5" x2="432.95" y2="137.7" stroke="#3a3a3a" stroke-width="1"/>
<line x1="465.4" y1="135.5" x2="465.4" y2="137.7" stroke="#3a3a3a" stroke-width="1"/>
<line x1="497.85" y1="135.5" x2="497.85" y2="137.7" stroke="#3a3a3a" stroke-width="1"/>
<line x1="530.3" y1="135.5" x2="530.3" y2="137.7" stroke="#3a3a3a" stroke-width="1"/>
<line x1="416.7" y1="135.5" x2="416.7" y2="136.82" stroke="#3a3a3a" stroke-width="0.8"/>
<line x1="449.15" y1="135.5" x2="449.15" y2="136.82" stroke="#3a3a3a" stroke-width="0.8"/>
<line x1="481.6" y1="135.5" x2="481.6" y2="136.82" stroke="#3a3a3a" stroke-width="0.8"/>
<line x1="514.05" y1="135.5" x2="514.05" y2="136.82" stroke="#3a3a3a" stroke-width="0.8"/>
<line x1="384.3" y1="135.5" x2="384.3" y2="136.82" stroke="#3a3a3a" stroke-width="0.8"/>
<line x1="22.1" y1="291.5" x2="22.1" y2="293.7" stroke="#3a3a3a" stroke-width="1"/>
<line x1="51.3" y1="291.5" x2="51.3" y2="293.7" stroke="#3a3a3a" stroke-width="1"/>
<line x1="80.5" y1="291.5" x2="80.5" y2="293.7" stroke="#3a3a3a" stroke-width="1"/>
<line x1="109.7" y1="291.5" x2="109.7" y2="293.7" stroke="#3a3a3a" stroke-width="1"/>
<line x1="138.9" y1="291.5" x2="138.9" y2="293.7" stroke="#3a3a3a" stroke-width="1"/>
<line x1="168.1" y1="291.5" x2="168.1" y2="293.7" stroke="#3a3a3a" stroke-width="1"/>
<line x1="36.7" y1="291.5" x2="36.7" y2="292.82" stroke="#3a3a3a" stroke-width="0.8"/>
<line x1="65.9" y1="291.5" x2="65.9" y2="292.82" stroke="#3a3a3a" stroke-width="0.8"/>
<line x1="95.1" y1="291.5" x2="95.1" y2="292.82" stroke="#3a3a3a" stroke-width="0.8"/>
<line x1="124.3" y1="291.5" x2="124.3" y2="292.82" stroke="#3a3a3a" stroke-width="0.8"/>
<line x1="153.5" y1="291.5" x2="153.5" y2="292.82" stroke="#3a3a3a" stroke-width="0.8"/>
<line x1="234" y1="290.5" x2="234" y2="292.7" stroke="#3a3a3a" stroke-width="1"/>
<line x1="261.05" y1="290.5" x2="261.05" y2="292.7" stroke="#3a3a3a" stroke-width="1"/>
<line x1="288.1" y1="290.5" x2="288.1" y2="292.7" stroke="#3a3a3a" stroke-width="1"/>
<line x1="315.15" y1="290.5" x2="315.15" y2="292.7" stroke="#3a3a3a" stroke-width="1"/>
<line x1="342.2" y1="290.5" x2="342.2" y2="292.7" stroke="#3a3a3a" stroke-width="1"/>
<line x1="247.5" y1="290.5" x2="247.5" y2="291.82" stroke="#3a3a3a" stroke-width="0.8"/>
<line x1="274.55" y1="290.5" x2="274.55" y2="291.82" stroke="#3a3a3a" stroke-width="0.8"/>
<line x1="301.6" y1="290.5" x2="301.6" y2="291.82" stroke="#3a3a3a" stroke-width="0.8"/>
<line x1="328.65" y1="290.5" x2="328.65" y2="291.82" stroke="#3a3a3a" stroke-width="0.8"/>
<line x1="355.7" y1="290.5" x2="355.7" y2="291.82" stroke="#3a3a3a" stroke-width="0.8"/>
<line x1="220.5" y1="290.5" x2="220.5" y2="291.82" stroke="#3a3a3a" stroke-width="0.8"/>
<line x1="400.6" y1="288.5" x2="400.6" y2="290.7" stroke="#3a3a3a" stroke-width="1"/>
<line x1="426.4" y1="288.5" x2="426.4" y2="290.7" stroke="#3a3a3a" stroke-width="1"/>
<line x1="452.2" y1="288.5" x2="452.2" y2="290.7" stroke="#3a3a3a" stroke-width="1"/>
<line x1="478" y1="288.5" x2="478" y2="290.7" stroke="#3a3a3a" stroke-width="1"/>
<line x1="503.8" y1="288.5" x2="503.8" y2="290.7" stroke="#3a3a3a" stroke-width="1"/>
<line x1="529.6" y1="288.5" x2="529.6" y2="290.7" stroke="#3a3a3a" stroke-width="1"/>
<line x1="413.5" y1="288.5" x2="413.5" y2="289.82" stroke="#3a3a3a" stroke-width="0.8"/>
<line x1="439.3" y1="288.5" x2="439.3" y2="289.82" stroke="#3a3a3a" stroke-width="0.8"/>
<line x1="465.1" y1="288.5" x2="465.1" y2="289.82" stroke="#3a3a3a" stroke-width="0.8"/>
<line x1="490.9" y1="288.5" x2="490.9" y2="289.82" stroke="#3a3a3a" stroke-width="0.8"/>
<line x1="516.7" y1="288.5" x2="516.7" y2="289.82" stroke="#3a3a3a" stroke-width="0.8"/>
<line x1="542.5" y1="288.5" x2="542.5" y2="289.82" stroke="#3a3a3a" stroke-width="0.8"/>
<line x1="127.6" y1="14.8" x2="143.4" y2="14.8" stroke="#f00" stroke-width="1.5"/>
<line x1="315.8" y1="10.6" x2="331.3" y2="10.6" stroke="#14148c" stroke-width="1.5"/>
<line x1="504.2" y1="13.4" x2="519.4" y2="13.4" stroke="#000" stroke-width="1.25"/>
<line x1="139.4" y1="174.4" x2="153.2" y2="174.4" stroke="#000" stroke-width="1.25"/>
<line x1="329.3" y1="176.1" x2="343.7" y2="176.1" stroke="#000" stroke-width="1.25"/>
<line x1="501.7" y1="172.8" x2="516.3" y2="172.8" stroke="#1a7a1a" stroke-width="1.5"/>
<text transform="translate(23.03,23.40) scale(0.4727,0.5136)" font-size="40" style="font-family:'Liberation Sans',sans-serif;font-weight:bold" fill="#000" stroke="#000" stroke-width="1.22">a</text>
<text transform="translate(205.44,24.20) scale(0.5550,0.5200)" font-size="40" style="font-family:'Liberation Sans',sans-serif;font-weight:bold" fill="#000" stroke="#000" stroke-width="1.12">b</text>
<text transform="translate(387.39,23.80) scale(0.5526,0.5273)" font-size="40" style="font-family:'Liberation Sans',sans-serif;font-weight:bold" fill="#000" stroke="#000" stroke-width="1.11">c</text>
<text transform="translate(24.69,183.60) scale(0.5550,0.5167)" font-size="40" style="font-family:'Liberation Sans',sans-serif;font-weight:bold" fill="#000" stroke="#000" stroke-width="1.12">d</text>
<text transform="translate(217.35,183.70) scale(0.5737,0.5364)" font-size="40" style="font-family:'Liberation Sans',sans-serif;font-weight:bold" fill="#000" stroke="#000" stroke-width="1.08">e</text>
<text transform="translate(412.27,184.70) scale(0.6333,0.5300)" font-size="40" style="font-family:'Liberation Sans',sans-serif;font-weight:bold" fill="#000" stroke="#000" stroke-width="1.03">f</text>
<text transform="translate(11.51,100.97) rotate(-90) scale(0.2700,0.2541)" font-size="40" style="font-family:'Liberation Serif',serif;font-weight:bold" fill="#000" stroke="#000" stroke-width="1.60">Intensity (a.u.)</text>
<text transform="translate(188.44,101.77) rotate(-90) scale(0.2656,0.2730)" font-size="40" style="font-family:'Liberation Serif',serif;font-weight:bold" fill="#000" stroke="#000" stroke-width="1.56">Intensity (a.u.)</text>
<text transform="translate(373.79,95.46) rotate(-90) scale(0.2648,0.2676)" font-size="40" style="font-family:'Liberation Serif',serif;font-weight:bold" fill="#000" stroke="#000" stroke-width="1.58">Intensity (a.u.)</text>
<text transform="translate(10.61,251.86) rotate(-90) scale(0.2579,0.2541)" font-size="40" style="font-family:'Liberation Serif',serif;font-weight:bold" fill="#000" stroke="#000" stroke-width="1.62">Intensity (a.u.)</text>
<text transform="translate(198.99,262.36) rotate(-90) scale(0.2555,0.2459)" font-size="40" style="font-family:'Liberation Serif',serif;font-weight:bold" fill="#000" stroke="#000" stroke-width="1.63">Intensity (a.u.)</text>
<text transform="translate(386.14,266.76) rotate(-90) scale(0.2576,0.2444)" font-size="40" style="font-family:'Liberation Serif',serif;font-weight:bold" fill="#000" stroke="#000" stroke-width="1.63">Transmittance (a.u.)</text>
<text transform="translate(73.80,156.32) scale(0.2705,0.2649)" font-size="40" style="font-family:'Liberation Serif',serif;font-weight:bold" fill="#000" stroke="#000" stroke-width="1.57">Angle (2θ)</text>
<text transform="translate(233.73,156.54) scale(0.2678,0.2730)" font-size="40" style="font-family:'Liberation Serif',serif;font-weight:bold" fill="#000" stroke="#000" stroke-width="1.55">Binding Energy (eV)</text>
<text transform="translate(420.23,157.79) scale(0.2670,0.2784)" font-size="40" style="font-family:'Liberation Serif',serif;font-weight:bold" fill="#000" stroke="#000" stroke-width="1.54">Binding Energy (eV)</text>
<text transform="translate(53.14,313.57) scale(0.2587,0.2703)" font-size="40" style="font-family:'Liberation Serif',serif;font-weight:bold" fill="#000" stroke="#000" stroke-width="1.59">Binding Energy (eV)</text>
<text transform="translate(241.55,313.14) scale(0.2550,0.2622)" font-size="40" style="font-family:'Liberation Serif',serif;font-weight:bold" fill="#000" stroke="#000" stroke-width="1.61">Binding Energy (eV)</text>
<text transform="translate(430.74,312.19) scale(0.2573,0.2568)" font-size="40" style="font-family:'Liberation Serif',serif;font-weight:bold" fill="#000" stroke="#000" stroke-width="1.61">Wavelength (cm<tspan font-size="65%" baseline-shift="40%">-1</tspan>)</text>
<text transform="translate(144.61,17.42) scale(0.1969,0.1969)" font-size="40" style="font-family:'Liberation Serif',serif;font-weight:bold" fill="#000" stroke="#000" stroke-width="1.81">SrCoO<tspan font-size="68%" baseline-shift="-22%">3</tspan></text>
<text transform="translate(332.71,13.46) scale(0.1962,0.2062)" font-size="40" style="font-family:'Liberation Serif',serif;font-weight:bold" fill="#000" stroke="#000" stroke-width="1.79">SrCoO<tspan font-size="68%" baseline-shift="-22%">3</tspan></text>
<text transform="translate(520.05,15.50) scale(0.2239,0.1886)" font-size="40" style="font-family:'Liberation Serif',serif;font-weight:bold" fill="#000" stroke="#000" stroke-width="1.77">Co2p</text>
<text transform="translate(155.23,176.80) scale(0.1863,0.1714)" font-size="40" style="font-family:'Liberation Serif',serif;font-weight:bold" fill="#000" stroke="#000" stroke-width="1.90">Sr3d</text>
<text transform="translate(345.20,178.50) scale(0.2000,0.1923)" font-size="40" style="font-family:'Liberation Serif',serif;font-weight:bold" fill="#000" stroke="#000" stroke-width="1.82">C1s</text>
<text transform="translate(517.82,175.32) scale(0.1901,0.1969)" font-size="40" style="font-family:'Liberation Serif',serif;font-weight:bold" fill="#000" stroke="#000" stroke-width="1.83">SrCoO<tspan font-size="68%" baseline-shift="-22%">3</tspan></text>
<text transform="translate(47.09,96.81) rotate(-90) scale(0.2036,0.1389)" font-size="40" style="font-family:'Liberation Serif',serif;font-weight:bold" fill="#000" stroke="#000" stroke-width="1.94">(310)</text>
<text transform="translate(66.23,34.43) rotate(-90) scale(0.2136,0.1333)" font-size="40" style="font-family:'Liberation Serif',serif;font-weight:bold" fill="#000" stroke="#000" stroke-width="1.93">(110)</text>
<text transform="translate(80.69,25.91) rotate(-90) scale(0.2048,0.1639)" font-size="40" style="font-family:'Liberation Serif',serif;font-weight:bold" fill="#000" stroke="#000" stroke-width="1.87">(102)</text>
<text transform="translate(97.13,62.99) rotate(-90) scale(0.1952,0.1333)" font-size="40" style="font-family:'Liberation Serif',serif;font-weight:bold" fill="#000" stroke="#000" stroke-width="1.98">(004)</text>
<text transform="translate(91.34,102.11) rotate(-90) scale(0.2037,0.1444)" font-size="40" style="font-family:'Liberation Serif',serif;font-weight:bold" fill="#000" stroke="#000" stroke-width="1.93">(112)</text>
<text transform="translate(119.78,94.11) rotate(-90) scale(0.2048,0.1528)" font-size="40" style="font-family:'Liberation Serif',serif;font-weight:bold" fill="#000" stroke="#000" stroke-width="1.90">(212)</text>
<text transform="translate(128.22,98.02) rotate(-90) scale(0.2086,0.1722)" font-size="40" style="font-family:'Liberation Serif',serif;font-weight:bold" fill="#000" stroke="#000" stroke-width="1.84">(114)</text>
<text transform="translate(145.68,104.60) rotate(-90) scale(0.1988,0.1528)" font-size="40" style="font-family:'Liberation Serif',serif;font-weight:bold" fill="#000" stroke="#000" stroke-width="1.92">(220)</text>
<text transform="translate(206.70,71.90) scale(0.2000,0.1893)" font-size="40" style="font-family:'Liberation Serif',serif;font-weight:bold" fill="#000" stroke="#000" stroke-width="1.82">Sr3d</text>
<text transform="translate(225.30,83.80) scale(0.2000,0.1886)" font-size="40" style="font-family:'Liberation Serif',serif;font-weight:bold" fill="#000" stroke="#000" stroke-width="1.82">Sr3p</text>
<text transform="translate(239.10,56.80) scale(0.2000,0.1846)" font-size="40" style="font-family:'Liberation Serif',serif;font-weight:bold" fill="#000" stroke="#000" stroke-width="1.83">C1s</text>
<text transform="translate(275.80,24.60) scale(0.2000,0.2000)" font-size="40" style="font-family:'Liberation Serif',serif;font-weight:bold" fill="#000" stroke="#000" stroke-width="1.80">O1s</text>
<text transform="translate(310.20,26.15) scale(0.2000,0.1829)" font-size="40" style="font-family:'Liberation Serif',serif;font-weight:bold" fill="#000" stroke="#000" stroke-width="1.84">Co2p</text>
<text transform="translate(437.60,68.83) scale(0.2008,0.1857)" font-size="40" style="font-family:'Liberation Serif',serif;font-weight:bold" fill="#000" stroke="#000" stroke-width="1.83">Co 2p<tspan font-size="68%" baseline-shift="-22%">3/2</tspan></text>
<text transform="translate(424.55,84.20) scale(0.1770,0.1815)" font-size="40" style="font-family:'Liberation Serif',serif;font-weight:bold" fill="#000" stroke="#000" stroke-width="1.90">Co<tspan font-size="65%" baseline-shift="40%">2+</tspan></text>
<text transform="translate(461.66,88.00) scale(0.1689,0.2037)" font-size="40" style="font-family:'Liberation Serif',serif;font-weight:bold" fill="#000" stroke="#000" stroke-width="1.86">Co<tspan font-size="65%" baseline-shift="40%">3+</tspan></text>
<text transform="translate(480.40,24.37) scale(0.2008,0.2143)" font-size="40" style="font-family:'Liberation Serif',serif;font-weight:bold" fill="#000" stroke="#000" stroke-width="1.77">Co 2p<tspan font-size="68%" baseline-shift="-22%">1/2</tspan></text>
<text transform="translate(488.65,45.50) scale(0.1757,0.2037)" font-size="40" style="font-family:'Liberation Serif',serif;font-weight:bold" fill="#000" stroke="#000" stroke-width="1.85">Co<tspan font-size="65%" baseline-shift="40%">2+</tspan></text>
<text transform="translate(515.44,55.90) scale(0.1797,0.1889)" font-size="40" style="font-family:'Liberation Serif',serif;font-weight:bold" fill="#000" stroke="#000" stroke-width="1.87">Co<tspan font-size="65%" baseline-shift="40%">3+</tspan></text>
<text transform="translate(93.72,179.46) scale(0.1904,0.2059)" font-size="40" style="font-family:'Liberation Serif',serif;font-weight:bold" fill="#000" stroke="#000" stroke-width="1.81">Sr3d<tspan font-size="68%" baseline-shift="-22%">5/2</tspan></text>
<text transform="translate(107.62,213.76) scale(0.1886,0.2059)" font-size="40" style="font-family:'Liberation Serif',serif;font-weight:bold" fill="#000" stroke="#000" stroke-width="1.81">Sr3d<tspan font-size="68%" baseline-shift="-22%">3/2</tspan></text>
<text transform="translate(80.79,263.70) scale(0.2025,0.2038)" font-size="40" style="font-family:'Liberation Serif',serif;font-weight:bold" fill="#000" stroke="#000" stroke-width="1.79">Sr-O</text>
<text transform="translate(114.01,261.00) scale(0.1946,0.2000)" font-size="40" style="font-family:'Liberation Serif',serif;font-weight:bold" fill="#000" stroke="#000" stroke-width="1.81">SrCO<tspan font-size="68%" baseline-shift="-22%">3</tspan></text>
<text transform="translate(296.11,180.80) scale(0.1955,0.1808)" font-size="40" style="font-family:'Liberation Serif',serif;font-weight:bold" fill="#000" stroke="#000" stroke-width="1.85">C-C</text>
<text transform="translate(265.92,249.90) scale(0.1894,0.1846)" font-size="40" style="font-family:'Liberation Serif',serif;font-weight:bold" fill="#000" stroke="#000" stroke-width="1.86">O-C=O</text>
<text transform="translate(307.34,258.60) scale(0.1797,0.1731)" font-size="40" style="font-family:'Liberation Serif',serif;font-weight:bold" fill="#000" stroke="#000" stroke-width="1.91">C-O</text>
<text transform="translate(404.40,275.95) rotate(-90) scale(0.1738,0.2115)" font-size="40" style="font-family:'Liberation Serif',serif;font-weight:bold" fill="#000" stroke="#000" stroke-width="1.83">591.96</text>
<text transform="translate(414.20,225.28) rotate(-90) scale(0.1750,0.1846)" font-size="40" style="font-family:'Liberation Serif',serif;font-weight:bold" fill="#000" stroke="#000" stroke-width="1.89">855.39</text>
<text transform="translate(421.20,235.90) rotate(-90) scale(0.1664,0.1885)" font-size="40" style="font-family:'Liberation Serif',serif;font-weight:bold" fill="#000" stroke="#000" stroke-width="1.91">1035.22</text>
<text transform="translate(434.40,237.91) rotate(-90) scale(0.1698,0.1615)" font-size="40" style="font-family:'Liberation Serif',serif;font-weight:bold" fill="#000" stroke="#000" stroke-width="1.97">1386.20</text>
<text transform="translate(440.30,245.31) rotate(-90) scale(0.1706,0.1808)" font-size="40" style="font-family:'Liberation Serif',serif;font-weight:bold" fill="#000" stroke="#000" stroke-width="1.92">1454.03</text>
<text transform="translate(448.60,237.40) rotate(-90) scale(0.1659,0.1769)" font-size="40" style="font-family:'Liberation Serif',serif;font-weight:bold" fill="#000" stroke="#000" stroke-width="1.94">1631.49</text>
<text transform="translate(499.20,224.05) rotate(-90) scale(0.1732,0.1923)" font-size="40" style="font-family:'Liberation Serif',serif;font-weight:bold" fill="#000" stroke="#000" stroke-width="1.88">2856.36</text>
<text transform="translate(506.50,227.54) rotate(-90) scale(0.1701,0.1769)" font-size="40" style="font-family:'Liberation Serif',serif;font-weight:bold" fill="#000" stroke="#000" stroke-width="1.93">2927.34</text>
<text transform="translate(527.90,256.35) rotate(-90) scale(0.1740,0.2038)" font-size="40" style="font-family:'Liberation Serif',serif;font-weight:bold" fill="#000" stroke="#000" stroke-width="1.85">3443.95</text>
<text transform="translate(43.68,142.50) scale(0.2158,0.2115)" font-size="40" style="font-family:'Liberation Serif',serif;font-weight:bold" fill="#000" stroke="#000" stroke-width="1.75">20</text>
<text transform="translate(83.18,142.50) scale(0.2158,0.2115)" font-size="40" style="font-family:'Liberation Serif',serif;font-weight:bold" fill="#000" stroke="#000" stroke-width="1.75">40</text>
<text transform="translate(122.78,142.50) scale(0.2158,0.2115)" font-size="40" style="font-family:'Liberation Serif',serif;font-weight:bold" fill="#000" stroke="#000" stroke-width="1.75">60</text>
<text transform="translate(162.58,142.50) scale(0.2158,0.2115)" font-size="40" style="font-family:'Liberation Serif',serif;font-weight:bold" fill="#000" stroke="#000" stroke-width="1.75">80</text>
<text transform="translate(199.30,145.50) scale(0.2000,0.2115)" font-size="40" style="font-family:'Liberation Serif',serif;font-weight:bold" fill="#000" stroke="#000" stroke-width="1.78">0</text>
<text transform="translate(226.00,145.50) scale(0.2000,0.2115)" font-size="40" style="font-family:'Liberation Serif',serif;font-weight:bold" fill="#000" stroke="#000" stroke-width="1.78">200</text>
<text transform="translate(257.00,145.50) scale(0.2000,0.2115)" font-size="40" style="font-family:'Liberation Serif',serif;font-weight:bold" fill="#000" stroke="#000" stroke-width="1.78">400</text>
<text transform="translate(287.00,145.50) scale(0.2000,0.2115)" font-size="40" style="font-family:'Liberation Serif',serif;font-weight:bold" fill="#000" stroke="#000" stroke-width="1.78">600</text>
<text transform="translate(318.00,145.50) scale(0.2000,0.2115)" font-size="40" style="font-family:'Liberation Serif',serif;font-weight:bold" fill="#000" stroke="#000" stroke-width="1.78">800</text>
<text transform="translate(345.30,145.50) scale(0.2000,0.2115)" font-size="40" style="font-family:'Liberation Serif',serif;font-weight:bold" fill="#000" stroke="#000" stroke-width="1.78">1000</text>
<text transform="translate(393.74,146.40) scale(0.2086,0.2000)" font-size="40" style="font-family:'Liberation Serif',serif;font-weight:bold" fill="#000" stroke="#000" stroke-width="1.78">810</text>
<text transform="translate(427.05,146.40) scale(0.2086,0.2000)" font-size="40" style="font-family:'Liberation Serif',serif;font-weight:bold" fill="#000" stroke="#000" stroke-width="1.78">801</text>
<text transform="translate(460.14,146.40) scale(0.2086,0.2000)" font-size="40" style="font-family:'Liberation Serif',serif;font-weight:bold" fill="#000" stroke="#000" stroke-width="1.78">792</text>
<text transform="translate(493.24,146.40) scale(0.2086,0.2000)" font-size="40" style="font-family:'Liberation Serif',serif;font-weight:bold" fill="#000" stroke="#000" stroke-width="1.78">783</text>
<text transform="translate(526.14,146.40) scale(0.2086,0.2000)" font-size="40" style="font-family:'Liberation Serif',serif;font-weight:bold" fill="#000" stroke="#000" stroke-width="1.78">774</text>
<text transform="translate(14.44,302.50) scale(0.2018,0.1923)" font-size="40" style="font-family:'Liberation Serif',serif;font-weight:bold" fill="#000" stroke="#000" stroke-width="1.81">124</text>
<text transform="translate(43.74,302.50) scale(0.2018,0.1923)" font-size="40" style="font-family:'Liberation Serif',serif;font-weight:bold" fill="#000" stroke="#000" stroke-width="1.81">128</text>
<text transform="translate(73.85,302.50) scale(0.2018,0.1923)" font-size="40" style="font-family:'Liberation Serif',serif;font-weight:bold" fill="#000" stroke="#000" stroke-width="1.81">132</text>
<text transform="translate(103.44,302.50) scale(0.2018,0.1923)" font-size="40" style="font-family:'Liberation Serif',serif;font-weight:bold" fill="#000" stroke="#000" stroke-width="1.81">136</text>
<text transform="translate(133.34,302.50) scale(0.2018,0.1923)" font-size="40" style="font-family:'Liberation Serif',serif;font-weight:bold" fill="#000" stroke="#000" stroke-width="1.81">140</text>
<text transform="translate(163.14,302.50) scale(0.2018,0.1923)" font-size="40" style="font-family:'Liberation Serif',serif;font-weight:bold" fill="#000" stroke="#000" stroke-width="1.81">144</text>
<text transform="translate(228.85,301.00) scale(0.2018,0.1885)" font-size="40" style="font-family:'Liberation Serif',serif;font-weight:bold" fill="#000" stroke="#000" stroke-width="1.82">294</text>
<text transform="translate(255.55,301.00) scale(0.2018,0.1885)" font-size="40" style="font-family:'Liberation Serif',serif;font-weight:bold" fill="#000" stroke="#000" stroke-width="1.82">291</text>
<text transform="translate(282.35,301.00) scale(0.2018,0.1885)" font-size="40" style="font-family:'Liberation Serif',serif;font-weight:bold" fill="#000" stroke="#000" stroke-width="1.82">288</text>
<text transform="translate(309.05,301.00) scale(0.2018,0.1885)" font-size="40" style="font-family:'Liberation Serif',serif;font-weight:bold" fill="#000" stroke="#000" stroke-width="1.82">285</text>
<text transform="translate(335.35,301.00) scale(0.2018,0.1885)" font-size="40" style="font-family:'Liberation Serif',serif;font-weight:bold" fill="#000" stroke="#000" stroke-width="1.82">282</text>
<text transform="translate(395.06,299.10) scale(0.1947,0.2038)" font-size="40" style="font-family:'Liberation Serif',serif;font-weight:bold" fill="#000" stroke="#000" stroke-width="1.80">600</text>
<text transform="translate(418.72,299.10) scale(0.1947,0.2038)" font-size="40" style="font-family:'Liberation Serif',serif;font-weight:bold" fill="#000" stroke="#000" stroke-width="1.80">1200</text>
<text transform="translate(444.72,299.10) scale(0.1947,0.2038)" font-size="40" style="font-family:'Liberation Serif',serif;font-weight:bold" fill="#000" stroke="#000" stroke-width="1.80">1800</text>
<text transform="translate(470.61,299.10) scale(0.1947,0.2038)" font-size="40" style="font-family:'Liberation Serif',serif;font-weight:bold" fill="#000" stroke="#000" stroke-width="1.80">2400</text>
<text transform="translate(496.31,299.10) scale(0.1947,0.2038)" font-size="40" style="font-family:'Liberation Serif',serif;font-weight:bold" fill="#000" stroke="#000" stroke-width="1.80">3000</text>
<text transform="translate(521.91,299.10) scale(0.1947,0.2038)" font-size="40" style="font-family:'Liberation Serif',serif;font-weight:bold" fill="#000" stroke="#000" stroke-width="1.80">3600</text>
</g>
</svg>
</div></body></html>
